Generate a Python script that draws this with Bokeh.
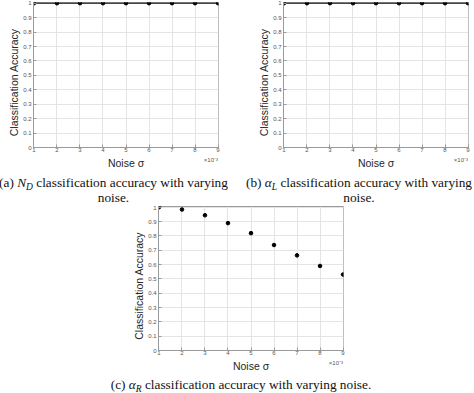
from bokeh.plotting import figure
from bokeh.models import Range1d, Div, FixedTicker
from bokeh.layouts import column, row
from bokeh.embed import file_html
from bokeh.resources import INLINE

# ---- data ----
noise = [1, 2, 3, 4, 5, 6, 7, 8, 9]          # noise sigma, x 10^-3
acc_nd = [1.0, 1.0, 1.0, 1.0, 1.0, 1.0, 1.0, 1.0, 1.0]
acc_alpha_l = [1.0, 1.0, 1.0, 1.0, 1.0, 1.0, 1.0, 1.0, 1.0]
acc_alpha_r = [1.0, 0.984, 0.944, 0.889, 0.819, 0.736, 0.664, 0.590, 0.530]
x_ticks = [1, 2, 3, 4, 5, 6, 7, 8, 9]
y_ticks = [0, 0.1, 0.2, 0.3, 0.4, 0.5, 0.6, 0.7, 0.8, 0.9, 1]
y_tick_labels = {0: "0", 0.1: "0.1", 0.2: "0.2", 0.3: "0.3", 0.4: "0.4", 0.5: "0.5",
                 0.6: "0.6", 0.7: "0.7", 0.8: "0.8", 0.9: "0.9", 1: "1"}
x_exponent = "×10⁻³"
x_label = "Noise σ"
y_label = "Classification Accuracy"
SUB = '<sub style="font-size:9.5px;line-height:0;vertical-align:-3px"><i>%s</i></sub>'
captions = {
    "a": '(a) <i>N</i>' + SUB % "D" + ' classification accuracy with varying<br>noise.',
    "b": '(b) <i>&alpha;</i>' + SUB % "L" + ' classification accuracy with varying<br>noise.',
    "c": '(c) <i>&alpha;</i>' + SUB % "R" + ' classification accuracy with varying noise.',
}

SANS = "Liberation Sans"
SERIF = "Liberation Serif"


def make_panel(xs, ys, left, right, top, bottom, fh, with_line):
    p = figure(frame_width=185, frame_height=fh,
               min_border_left=left, min_border_right=right,
               min_border_top=top, min_border_bottom=bottom,
               x_range=Range1d(0.98, 9.02), y_range=Range1d(0, 1.005),
               output_backend="svg", toolbar_location=None, margin=0)
    p.background_fill_color = "white"
    p.border_fill_color = "white"
    p.outline_line_color = "#9a9a9a"
    p.outline_line_width = 1
    if with_line:
        p.line(xs, ys, line_color="#111111", line_width=1.3)
    p.scatter(xs, ys, size=3.6, fill_color="black", line_color="black")

    for ax in (p.xaxis[0], p.yaxis[0]):
        ax.axis_line_color = "#9a9a9a"
        ax.major_tick_in = 3
        ax.major_tick_out = 0
        ax.major_tick_line_color = "#9a9a9a"
        ax.minor_tick_line_color = None
        ax.major_label_text_font = SANS
        ax.major_label_text_font_size = "6px"
        ax.major_label_text_color = "#555555"
        ax.axis_label_text_font = SANS
        ax.axis_label_text_font_size = "10.5px"
        ax.axis_label_text_font_style = "normal"
        ax.axis_label_text_color = "#262626"
    p.xaxis.ticker = FixedTicker(ticks=x_ticks)
    p.yaxis.ticker = FixedTicker(ticks=y_ticks)
    p.yaxis.major_label_overrides = y_tick_labels
    p.xaxis.axis_label = x_label
    # trailing no-break spaces move the rotated title a little below the frame centre
    p.yaxis.axis_label = y_label + "\u00a0" * 5
    p.xaxis.major_label_standoff = 0
    p.xaxis.axis_label_standoff = 2
    p.yaxis.major_label_standoff = 2
    p.yaxis.axis_label_standoff = 0
    p.grid.grid_line_color = "#e4e4e4"
    p.grid.grid_line_width = 1
    return p


def caption(html, width, height, indent, exp_right, exp_top):
    exp = ('<span style="position:absolute;right:%dpx;top:%dpx;font-family:\'%s\';'
           'font-size:6px;line-height:8px;color:#555555;text-indent:0">%s</span>'
           % (exp_right, exp_top, SANS, x_exponent))
    return Div(text=exp + html, width=width, height=height, margin=0,
               styles={"font-family": SERIF, "font-size": "13.3px",
                       "text-align": "center", "line-height": "15px",
                       "color": "#111111", "position": "relative",
                       "text-indent": "%dpx" % indent, "overflow": "visible"})


pa = make_panel(noise, acc_nd, 33, 19, 2, 28, 145, True)
pb = make_panel(noise, acc_alpha_l, 46, 6, 2, 28, 145, True)
pc = make_panel(noise, acc_alpha_r, 158, 131, 1, 27, 144, False)

col_a = column(pa, caption(captions["a"], 237, 30, -10, 19, -19), spacing=0, margin=0)
col_b = column(pb, caption(captions["b"], 237, 30, 7, 6, -19), spacing=0, margin=0)
top_row = row(col_a, col_b, spacing=0, margin=0)
cap_c = caption(captions["c"], 474, 15, 8, 131, -18)
layout = column(top_row, pc, cap_c, spacing=0, margin=0)

open("out.html", "w").write(file_html(layout, INLINE))
